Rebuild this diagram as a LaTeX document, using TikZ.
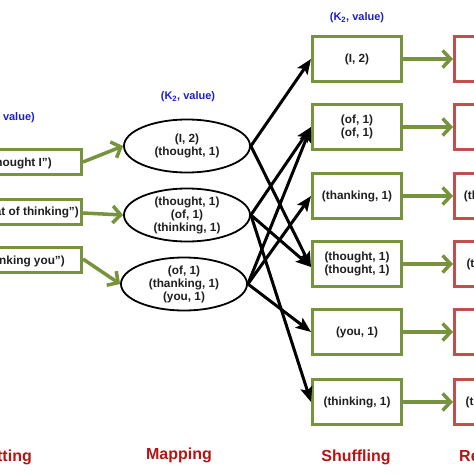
\documentclass[tikz,border=0pt]{standalone}
\usepackage{fontspec}
\setmainfont{Liberation Sans}
\usetikzlibrary{arrows.meta,shapes.geometric}
\definecolor{boxgreen}{RGB}{119,147,60}
\definecolor{boxred}{RGB}{192,80,77}
\definecolor{lblblue}{RGB}{30,30,205}
\definecolor{stagered}{RGB}{180,20,20}
\begin{document}
\begin{tikzpicture}[x=1pt,y=-1pt,
 txt/.style={font=\fontsize{11.8}{13}\selectfont\bfseries, text=black!88, align=center},
 gbox/.style={draw=boxgreen, line width=3pt, fill=white, minimum width=89pt, minimum height=45pt, inner sep=0pt, txt},
 rbox/.style={draw=boxred, line width=3pt, fill=white, minimum width=89pt, minimum height=45pt, inner sep=0pt, txt},
 lbox/.style={draw=boxgreen, line width=3pt, fill=white, minimum width=180pt, minimum height=25pt, inner sep=0pt},
 ltxt/.style={txt, inner sep=0pt, anchor=east},
 mapell/.style={draw, ellipse, line width=1.8pt, fill=white, minimum width=126pt, minimum height=53pt, inner sep=0pt, txt},
 kv/.style={font=\fontsize{11}{13}\selectfont\bfseries, text=lblblue, inner sep=0pt},
 stage/.style={font=\fontsize{16}{18}\selectfont\bfseries, text=stagered, inner sep=0pt},
 garrow/.style={draw=boxgreen, line width=3.5pt, -{Straight Barb[length=8pt,width=17pt]}},
 karrow/.style={draw=black, line width=3pt, -{Stealth[length=15pt,width=12pt,inset=3pt]}}
]
\useasboundingbox (0,0) rectangle (474,474);
\clip (0,0) rectangle (474,474);

% splitting boxes (cut at the left edge)
\node[lbox] (L1) at (-8.5,162) {};
\node[lbox] (L2) at (-8.5,212) {};
\node[lbox] (L3) at (-8.5,260) {};
\node[ltxt] (L1t) at (52,163) {hought I”)};
\node[ltxt] (L2t) at (79,212) {at of thinking”)};
\node[ltxt] (L3t) at (65,261) {nking you”)};
\node[kv, anchor=east] (K1) at (35,118) {(K\textsubscript{1}, value)};

% mapping ellipses
\node[mapell] (E1) at (187,146) {(I, 2)\\(thought, 1)};
\node[mapell] (E2) at (187,215) {(thought, 1)\\(of, 1)\\(thinking, 1)};
\node[mapell] (E3) at (184,284) {(of, 1)\\(thanking, 1)\\(you, 1)};
\node[kv] (K2a) at (188,97) {(K\textsubscript{2}, value)};

% shuffling boxes
\node[gbox] (S1) at (357,59) {(I, 2)};
\node[gbox] (S2) at (357,127) {(of, 1)\\(of, 1)};
\node[gbox] (S3) at (357,196) {(thanking, 1)};
\node[gbox] (S4) at (357,264) {(thought, 1)\\(thought, 1)};
\node[gbox] (S5) at (357,332) {(you, 1)};
\node[gbox] (S6) at (357,402) {(thinking, 1)};
\node[kv] (K2b) at (357,18) {(K\textsubscript{2}, value)};

% reducing boxes (cut at the right edge)
\node[rbox] (R1) at (499,59) {};
\node[rbox] (R2) at (499,127) {};
\node[rbox] (R3) at (499,196) {(thanking, 1)};
\node[rbox] (R4) at (499,264) {(thought, 2)};
\node[rbox] (R5) at (499,332) {};
\node[rbox] (R6) at (499,402) {(thinking, 1)};
\node[kv] (K3) at (501,18) {(K\textsubscript{3}, value)};

% stage labels
\node[stage, anchor=east] (T1) at (32,457) {Splitting};
\node[stage] (T2) at (179,455) {Mapping};
\node[stage] (T3) at (356,457) {Shuffling};
\node[stage, anchor=west] (T4) at (459,457) {Reducing};

% green arrows
\draw[garrow] (L1.east) -- (E1.west);
\draw[garrow] ([yshift=-1pt]L2.east) -- (E2.west);
\draw[garrow] ([yshift=1pt]L3.east) -- (E3.west);
\foreach \i in {1,...,6}{
  \draw[garrow] (S\i.east) -- (R\i.west);
}

% black arrows
\draw[karrow] (E1.east) -- (S1.west);
\draw[karrow] (E1.east) -- ([yshift=-3pt]S4.west);
\draw[karrow] (E2.east) -- (S2.west);
\draw[karrow] (E2.east) -- ([yshift=-3pt]S4.west);
\draw[karrow] (E2.east) -- (S6.west);
\draw[karrow] (E3.east) -- (S2.west);
\draw[karrow] (E3.east) -- (S3.west);
\draw[karrow] (E3.east) -- (S5.west);
\end{tikzpicture}
\end{document}
